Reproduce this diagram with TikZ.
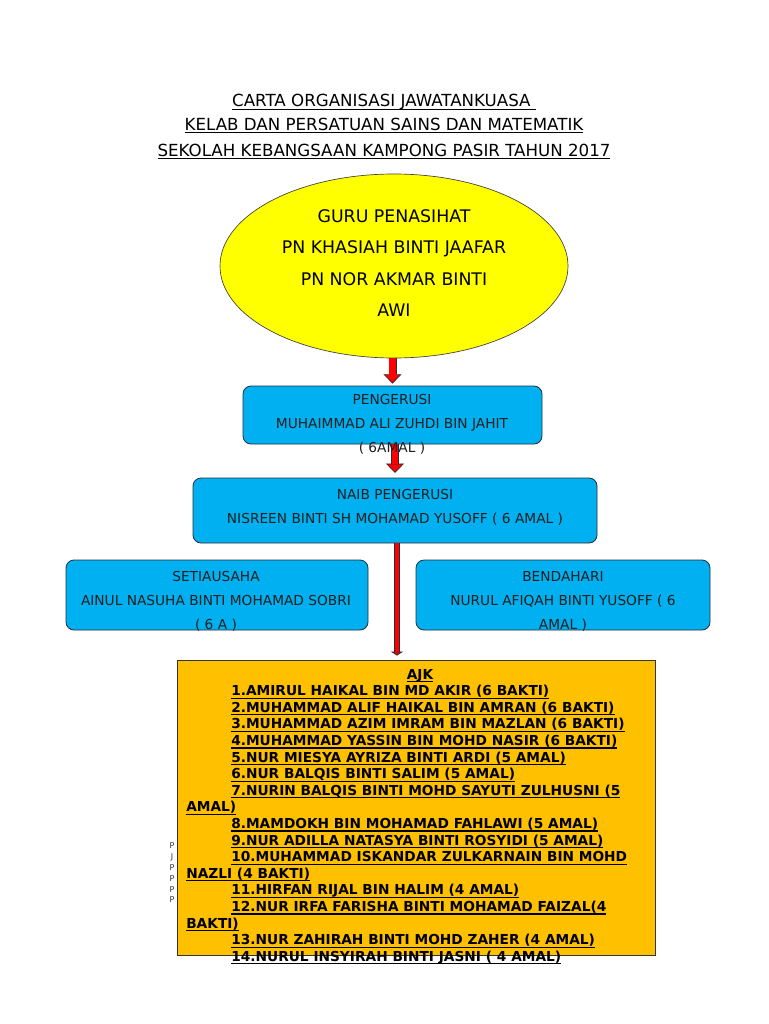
\documentclass[tikz,border=0pt]{standalone}
\usepackage{fontspec}
\setmainfont{DejaVu Sans}
\usetikzlibrary{arrows.meta,positioning,shapes.geometric}
\definecolor{chartyellow}{HTML}{FFFF00}
\definecolor{chartblue}{HTML}{00B0F0}
\definecolor{chartorange}{HTML}{FFC000}
\definecolor{chartred}{HTML}{FF0000}
\definecolor{chartedge}{HTML}{22303A}
\newcommand{\ulthick}[3]{\setbox0\hbox{#1}\rlap{\usebox0}\rule[#2]{\wd0}{#3}}

\begin{document}
\begin{tikzpicture}[x=0.75pt,y=-0.75pt,every node/.style={inner sep=0pt,align=center},heading/.style={anchor=base,font=\fontsize{12.5}{15}\selectfont},patron/.style={ellipse,draw=black!75,line width=0.5pt,fill=chartyellow,minimum width=261pt,minimum height=138pt},patrontext/.style={font=\fontsize{13}{23.6}\selectfont},postbox/.style={draw=chartedge,line width=0.6pt,rounded corners=6pt,fill=chartblue},posttext/.style={text=black!88,font=\fontsize{10.3}{18}\selectfont},ajkbox/.style={draw=black!80,line width=0.6pt,fill=chartorange,minimum width=358.5pt,minimum height=221.25pt},ajkline/.style={anchor=base west,font=\bfseries\fontsize{10.3}{12}\selectfont},link/.style={draw=chartedge,line width=6pt,-{Triangle[width=13.5pt,length=7pt,line width=0.5pt,fill=chartred]},shorten >=#1,postaction={draw=chartred,line width=4.8pt,-,shorten >=#1+6.6pt}},thinlink/.style={draw=chartedge,line width=4.6pt,-{Triangle[width=9pt,length=3pt,line width=0.5pt,fill=chartred]},shorten >=#1,postaction={draw=chartred,line width=3.4pt,-,shorten >=#1+2.6pt}}]
\useasboundingbox (0,0) rectangle (768,1024);
\node[heading] (head1) at (384,107) {\ulthick{CARTA ORGANISASI JAWATANKUASA~}{-2.2pt}{0.7pt}};
\node[heading] (head2) at (384,130) {\ulthick{KELAB DAN PERSATUAN SAINS DAN MATEMATIK}{-2.2pt}{0.7pt}};
\node[heading] (head3) at (384,156) {\ulthick{SEKOLAH KEBANGSAAN KAMPONG PASIR TAHUN 2017}{-2.2pt}{0.7pt}};
\node[patron] (guru) at (394,266) {};
\node[postbox,minimum width=224.25pt,minimum height=43.5pt] (chair) at (392.5,415) {};
\node[postbox,minimum width=303pt,minimum height=48.75pt] (vice) at (395,510.5) {};
\node[postbox,minimum width=226.5pt,minimum height=52.5pt] (secretary) at (217,595) {};
\node[postbox,minimum width=220.5pt,minimum height=52.5pt] (treasurer) at (563,595) {};
\node[ajkbox] (ajk) at (416,807.5) {};
\draw[link=1.5pt] (chair.north |- guru.south) -- (chair.north);
\draw[link=3.5pt] (vice.north |- chair.south) -- (vice.north);
\draw[thinlink=3pt] ([xshift=1.5pt]vice.south) -- ([xshift=1.5pt]vice.south |- ajk.north);
\node[patrontext] (guruname) at (394,263) {GURU PENASIHAT\\PN KHASIAH BINTI JAAFAR\\PN NOR AKMAR BINTI\\AWI};
\node[posttext] (chairname) at (392,424) {PENGERUSI\\MUHAIMMAD ALI ZUHDI BIN JAHIT\\( 6AMAL )};
\node[posttext] (vicename) at (395,507) {NAIB PENGERUSI\\NISREEN BINTI SH MOHAMAD YUSOFF ( 6 AMAL )};
\node[posttext] (secretaryname) at (216,601) {SETIAUSAHA\\AINUL NASUHA BINTI MOHAMAD SOBRI\\( 6 A )};
\node[posttext] (treasurername) at (563,601) {BENDAHARI\\NURUL AFIQAH BINTI YUSOFF ( 6\\AMAL )};
\node[ajkline,anchor=base] (ajk0) at (420,679) {\ulthick{AJK}{-2.4pt}{0.9pt}};
\foreach \xx/\txt [count=\i] in {231/{1.AMIRUL HAIKAL BIN MD AKIR (6 BAKTI)},231/{2.MUHAMMAD ALIF HAIKAL BIN AMRAN (6 BAKTI)},231/{3.MUHAMMAD AZIM IMRAM BIN MAZLAN (6 BAKTI)},231/{4.MUHAMMAD YASSIN BIN MOHD NASIR (6 BAKTI)},231/{5.NUR MIESYA AYRIZA BINTI ARDI (5 AMAL)},231/{6.NUR BALQIS BINTI SALIM (5 AMAL)},231/{7.NURIN BALQIS BINTI MOHD SAYUTI ZULHUSNI (5},186/{AMAL)},231/{8.MAMDOKH BIN MOHAMAD FAHLAWI (5 AMAL)},231/{9.NUR ADILLA NATASYA BINTI ROSYIDI (5 AMAL)},231/{10.MUHAMMAD ISKANDAR ZULKARNAIN BIN MOHD},186/{NAZLI (4 BAKTI)},231/{11.HIRFAN RIJAL BIN HALIM (4 AMAL)},231/{12.NUR IRFA FARISHA BINTI MOHAMAD FAIZAL(4},186/{BAKTI)},231/{13.NUR ZAHIRAH BINTI MOHD ZAHER (4 AMAL)},231/{14.NURUL INSYIRAH BINTI JASNI ( 4 AMAL)}}
  \node[ajkline] (ajk\i) at (\xx,679+16.6*\i) {\ulthick{\txt}{-2.4pt}{0.9pt}};
\node[text=black!80,font=\fontsize{6}{8.1}\selectfont] (stray) at (172,873) {P\\J\\P\\P\\P\\P};
\end{tikzpicture}
\end{document}
